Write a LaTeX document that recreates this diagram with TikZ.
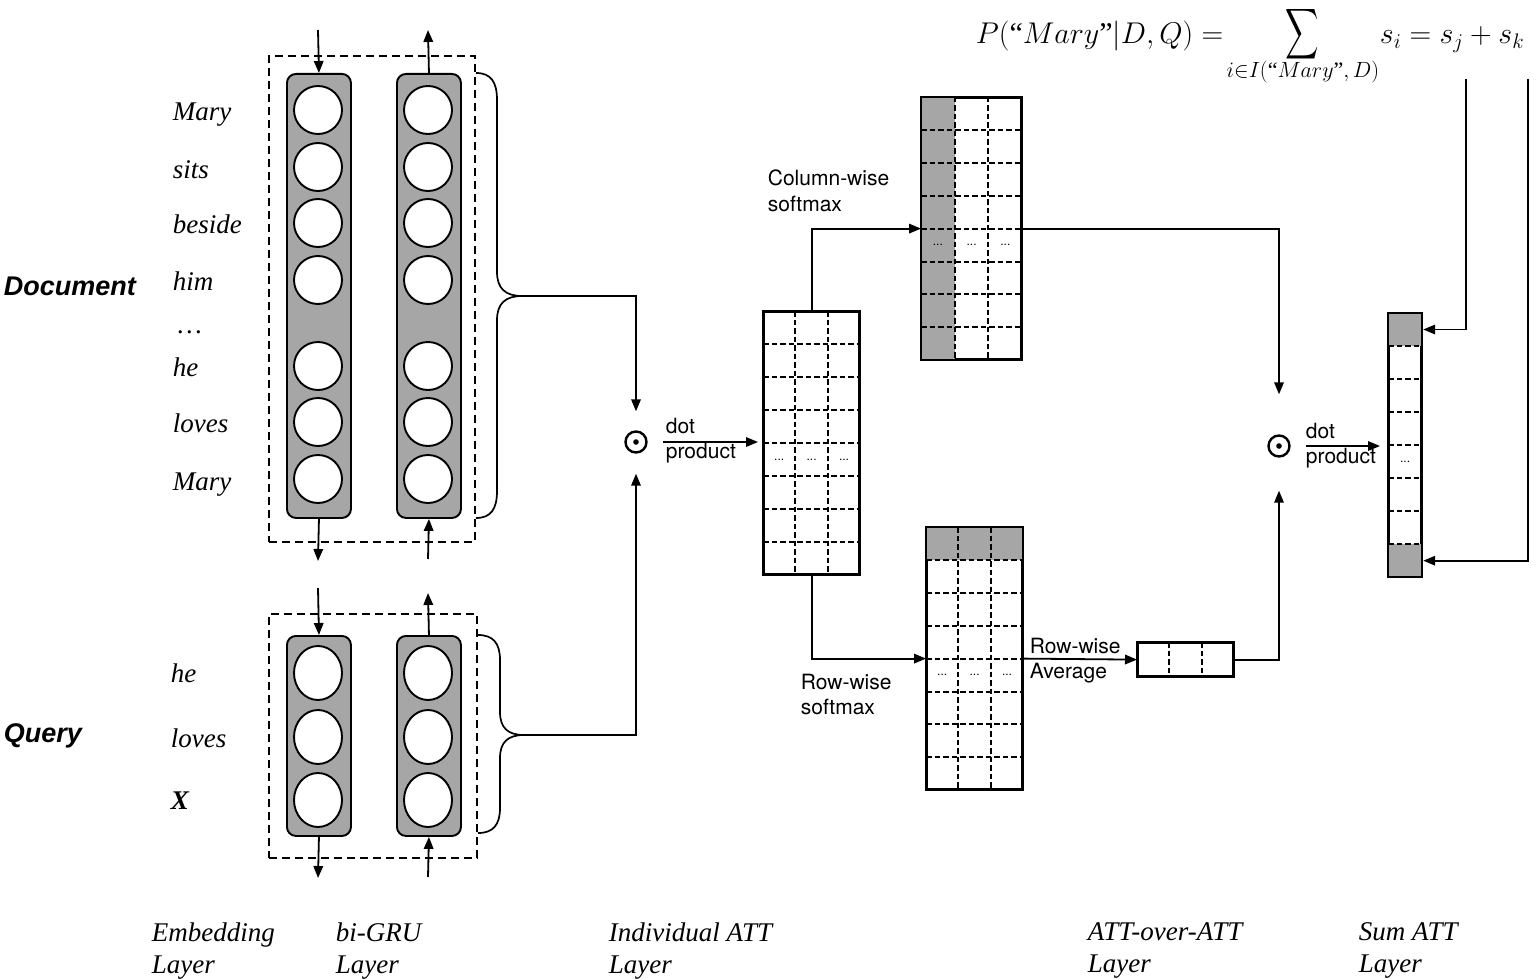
\RequirePackage{fix-cm}
\documentclass[tikz,border=0pt]{standalone}
\usepackage{amsmath}
\usepackage{fontspec}
\setmainfont{Liberation Serif}
\setsansfont{TeX Gyre Heros}
\newfontfamily\arialfont{Liberation Sans}
\usetikzlibrary{arrows.meta,calc,shapes.geometric}
\definecolor{cellgray}{RGB}{166,166,166}
\begin{document}
\begin{tikzpicture}[x=1pt,y=-1pt,line width=1.8pt,
  arr/.style={-{Triangle[length=12pt,width=9.5pt]},line width=1.8pt},
  colbox/.style={draw,fill=cellgray,rounded corners=9pt,minimum width=64pt,inner sep=0pt,line width=1.9pt,anchor=north west},
  unit/.style={circle,draw,fill=white,minimum size=48pt,inner sep=0pt,line width=1.9pt},
  qunit/.style={ellipse,draw,fill=white,minimum width=48pt,minimum height=54pt,inner sep=0pt,line width=1.9pt},
  dbox/.style={draw,dash pattern=on 8pt off 5pt,line width=1.7pt,inner sep=0pt,anchor=north west},
  gridl/.style={dash pattern=on 5.5pt off 3pt,line width=2pt},
  mat/.style={draw,fill=white,inner sep=0pt,line width=2.2pt,anchor=north west},
  border/.style={line width=2.2pt},
  word/.style={font=\fontsize{27}{32}\selectfont\itshape,anchor=base west,inner sep=0pt},
  sanslab/.style={font=\sffamily\fontsize{21}{25.5}\selectfont,align=left,anchor=north west,inner sep=0pt},
  bigbold/.style={font=\arialfont\bfseries\itshape\fontsize{27}{30}\selectfont,anchor=base west,inner sep=0pt},
  layerlab/.style={font=\fontsize{27}{32}\selectfont\itshape,align=left,anchor=north west,inner sep=0pt},
  celldots/.style={font=\sffamily\fontsize{12}{12}\selectfont,inner sep=0pt},
  formula/.style={font=\fontsize{30}{34}\selectfont,inner sep=0pt},
  odot/.style={circle,draw,minimum size=21pt,inner sep=0pt,line width=2.4pt}]
\useasboundingbox (0,0) rectangle (1536,979);

% ---------------- Document encoder ----------------
\node[dbox,minimum width=206pt,minimum height=486pt] (DB) at (268,55) {};
\node[colbox,minimum height=444pt] (E1) at (286,73) {};
\node[colbox,minimum height=444pt] (G1) at (396,73) {};
\foreach \y [count=\i] in {110,167,223,280,366,422,479} {
  \node[unit] (de\i) at (318,\y) {};
  \node[unit] (dg\i) at (428,\y) {};
}
\coordinate (dein) at (318,30);
\coordinate (deout) at (318,561);
\coordinate (dgout) at (428,30);
\coordinate (dgin) at (428,559);
\draw[arr] (dein) -- (E1.north);
\draw[arr] (E1.south) -- (deout);
\draw[arr] (G1.north) -- (dgout);
\draw[arr] (dgin) -- (G1.south);

\node[word] (w1) at (172,121) {Mary};
\node[word] (w2) at (172,178) {sits};
\node[word] (w3) at (172,233) {beside};
\node[word] (w4) at (172,290) {him};
\node[word] (w5) at (177,333) {…};
\node[word] (w6) at (172,376) {he};
\node[word] (w7) at (172,432) {loves};
\node[word] (w8) at (172,490) {Mary};
\node[bigbold] (doc) at (3,295) {Document};

% brace (document)
\coordinate (bd) at (522,296);
\draw[line width=1.7pt] (476,73) .. controls (491,73) and (497,82) .. (497,100) -- (497,272)
  .. controls (497,289) and (506,296) .. (bd)
  .. controls (506,296) and (497,303) .. (497,320) -- (497,491)
  .. controls (497,509) and (491,518) .. (476,518);

% ---------------- Query encoder ----------------
\node[dbox,minimum width=208pt,minimum height=244pt] (QB) at (268,613) {};
\node[colbox,minimum height=200pt] (E2) at (286,635) {};
\node[colbox,minimum height=200pt] (G2) at (396,635) {};
\foreach \y [count=\i] in {673,737,800} {
  \node[qunit] (qe\i) at (318,\y) {};
  \node[qunit] (qg\i) at (428,\y) {};
}
\coordinate (qein) at (318,588);
\coordinate (qeout) at (318,878);
\coordinate (qgout) at (428,593);
\coordinate (qgin) at (428,877);
\draw[arr] (qein) -- (E2.north);
\draw[arr] (E2.south) -- (qeout);
\draw[arr] (G2.north) -- (qgout);
\draw[arr] (qgin) -- (G2.south);

\node[word] (q1) at (170,682) {he};
\node[word] (q2) at (170,747) {loves};
\node[word,font=\fontsize{27}{32}\selectfont\bfseries\itshape] (q3) at (170,809) {X};
\node[bigbold] (qry) at (3,742) {Query};

\coordinate (bq) at (524,735);
\draw[line width=1.7pt] (478,635) .. controls (493,635) and (500,643) .. (500,660) -- (500,712)
  .. controls (500,728) and (508,735) .. (bq)
  .. controls (508,735) and (500,742) .. (500,758) -- (500,808)
  .. controls (500,825) and (493,833) .. (478,833);

% ---------------- Individual ATT ----------------
\node[odot] (od1) at (636,442) {};
\fill (od1.center) circle (2.8pt);
\draw[arr] (bd) -| ([yshift=19pt]od1.north);
\draw[arr] (bq) -| ([yshift=-20pt]od1.south);

\node[mat,minimum width=95pt,minimum height=262pt] (M) at (763,311) {};
\foreach \k in {1,...,7}
  \draw[gridl] ($(M.north west)!\k/8!(M.south west)$) -- ($(M.north east)!\k/8!(M.south east)$);
\foreach \k in {1,2}
  \draw[gridl] ($(M.north west)!\k/3!(M.north east)$) -- ($(M.south west)!\k/3!(M.south east)$);
\draw[border] (M.north west) rectangle (M.south east);
\foreach \c in {1,3,5}
  \node[celldots] at ($($(M.north west)!4.5/8!(M.south west)$)!\c/6!($(M.north east)!4.5/8!(M.south east)$)$) {...};

\draw[arr,shorten >=5pt] ([xshift=15pt]od1.east) -- (od1 -| M.west);
\node[sanslab] (dp1) at (665,417) {dot\\product};

% ---------------- Column-wise softmax ----------------
\node[mat,minimum width=99pt,minimum height=261pt] (T) at (921,97) {};
\fill[cellgray] (T.north west) rectangle ($(T.south west)!1/3!(T.south east)$);
\foreach \k in {1,...,7}
  \draw[gridl] ($(T.north west)!\k/8!(T.south west)$) -- ($(T.north east)!\k/8!(T.south east)$);
\foreach \k in {1,2}
  \draw[gridl] ($(T.north west)!\k/3!(T.north east)$) -- ($(T.south west)!\k/3!(T.south east)$);
\draw[border] (T.north west) rectangle (T.south east);
\foreach \c in {1,3,5}
  \node[celldots] at ($($(T.north west)!4.5/8!(T.south west)$)!\c/6!($(T.north east)!4.5/8!(T.south east)$)$) {...};
\draw[arr] (M.north) |- (T.west);
\node[sanslab] (cws) at (767,169) {Column-wise\\softmax};

% ---------------- Row-wise softmax ----------------
\node[mat,minimum width=95pt,minimum height=261pt] (B) at (926,527) {};
\fill[cellgray] (B.north west) rectangle ($(B.north east)!1/8!(B.south east)$);
\foreach \k in {1,...,7}
  \draw[gridl] ($(B.north west)!\k/8!(B.south west)$) -- ($(B.north east)!\k/8!(B.south east)$);
\foreach \k in {1,2}
  \draw[gridl] ($(B.north west)!\k/3!(B.north east)$) -- ($(B.south west)!\k/3!(B.south east)$);
\draw[border] (B.north west) rectangle (B.south east);
\foreach \c in {1,3,5}
  \node[celldots] at ($($(B.north west)!4.5/8!(B.south west)$)!\c/6!($(B.north east)!4.5/8!(B.south east)$)$) {...};
\draw[arr] (M.south) |- (B.west);
\node[sanslab] (rws) at (800,673) {Row-wise\\softmax};

% ---------------- Row-wise average vector ----------------
\node[mat,minimum width=95pt,minimum height=33pt] (V) at (1137,642) {};
\foreach \k in {1,2}
  \draw[gridl] ($(V.north west)!\k/3!(V.north east)$) -- ($(V.south west)!\k/3!(V.south east)$);
\draw[border] (V.north west) rectangle (V.south east);
\draw[arr] (B.east) -- (V.west);
\node[sanslab] (rwa) at (1029,637) {Row-wise\\Average};

% ---------------- ATT-over-ATT ----------------
\node[odot] (od2) at (1279,446) {};
\fill (od2.center) circle (2.8pt);
\draw[arr] (T.east) -| ([yshift=40pt]od2.north);
\draw[arr] (V.east) -| ([yshift=-33pt]od2.south);

% ---------------- Sum ATT ----------------
\node[mat,minimum width=32pt,minimum height=262pt] (S) at (1388,313) {};
\fill[cellgray] (S.north west) rectangle ($(S.north east)!1/8!(S.south east)$);
\fill[cellgray] ($(S.north west)!7/8!(S.south west)$) rectangle (S.south east);
\foreach \k in {1,...,7}
  \draw[gridl] ($(S.north west)!\k/8!(S.south west)$) -- ($(S.north east)!\k/8!(S.south east)$);
\draw[border] (S.north west) rectangle (S.south east);
\node[celldots] at ($(S.north)!4.5/8!(S.south)$) {...};
\draw[arr,shorten >=8pt] ([xshift=15pt]od2.east) -- (od2 -| S.west);
\node[sanslab] (dp2) at (1305,422) {dot\\product};

% ---------------- Formula ----------------
\node[formula,anchor=base west] (Pq) at (975,44) {$P(\text{“}Mary\text{”}|D,Q)=$};
\node[formula] (sig) at (1302,34) {\scalebox{0.93}[1.42]{$\displaystyle\sum$}};
\node[formula,font=\fontsize{22}{26}\selectfont,anchor=base] (sub) at (1303,78) {$i{\in}I(\text{“}Mary\text{”},D)$};
\node[formula,anchor=base west] (ss) at (1379,44) {$s_i = s_j + s_k$};
\coordinate (sjl) at (1466,79);
\coordinate (skl) at (1528,79);
\draw[arr,shorten >=1pt] (sjl) |- ($(S.north east)!1/16!(S.south east)$);
\draw[arr,shorten >=1pt] (skl) |- ($(S.north east)!15/16!(S.south east)$);

% ---------------- Layer labels ----------------
\node[layerlab] (l1) at (151,922) {Embedding\\Layer};
\node[layerlab] (l2) at (335,922) {bi-GRU\\Layer};
\node[layerlab] (l3) at (608,922) {Individual ATT\\Layer};
\node[layerlab] (l4) at (1087,922) {ATT-over-ATT\\Layer};
\node[layerlab] (l5) at (1358,922) {Sum ATT\\Layer};
\end{tikzpicture}
\end{document}
